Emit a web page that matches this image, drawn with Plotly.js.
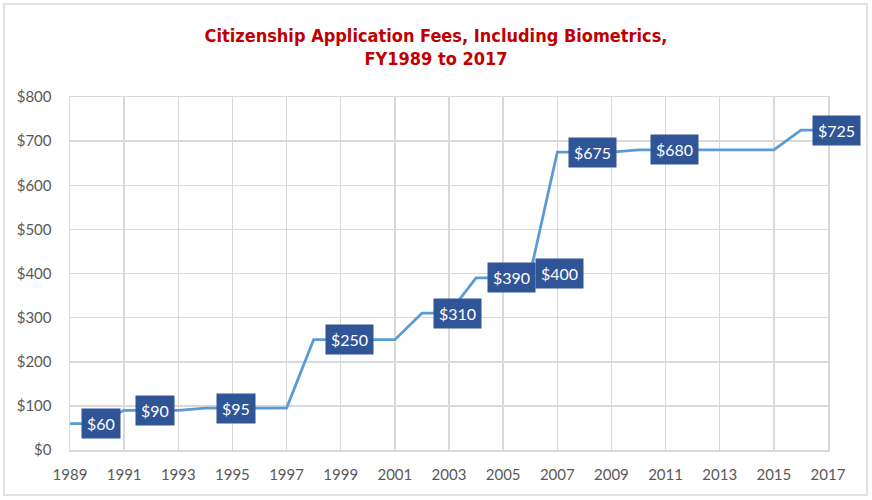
<!DOCTYPE html>
<html>
<head>
<meta charset="utf-8">
<script src="https://cdn.plot.ly/plotly-3.0.1.min.js"></script>
<style>
  html, body { margin: 0; padding: 0; background: #ffffff; }
  #chart { width: 872px; height: 500px; }
</style>
</head>
<body>
<div id="chart"></div>
<script>
// Fiscal years and the citizenship application fee (incl. biometrics) in each
const years = [1989, 1990, 1991, 1992, 1993, 1994, 1995, 1996, 1997, 1998,
               1999, 2000, 2001, 2002, 2003, 2004, 2005, 2006, 2007, 2008,
               2009, 2010, 2011, 2012, 2013, 2014, 2015, 2016, 2017];
const fees  = [60, 60, 90, 90, 90, 95, 95, 95, 95, 250,
               250, 250, 250, 310, 310, 390, 390, 400, 675, 675,
               675, 680, 680, 680, 680, 680, 680, 725, 725];

// Years where the fee changed and is called out with a label
const labelYears = [1989, 1991, 1994, 1998, 2002, 2004, 2006, 2007, 2010, 2016];

// Y-axis ticks
const yTicks = [0, 100, 200, 300, 400, 500, 600, 700, 800];
const yTickText = ['$0', '$100', '$200', '$300', '$400', '$500', '$600', '$700', '$800'];

const gridColor = '#D9D9D9';
const tickFont = { family: 'Lato, "Open Sans", sans-serif', size: 15, color: '#595959' };

const trace = {
  x: years,
  y: fees,
  type: 'scatter',
  mode: 'lines',
  line: { color: '#5B9BD5', width: 2.75 },
  hoverinfo: 'x+y',
  showlegend: false
};

// Callout boxes sit just to the right of each change point
const annotations = labelYears.map(function (yr) {
  const v = fees[years.indexOf(yr)];
  return {
    x: yr, y: v, xref: 'x', yref: 'y',
    text: '$' + v,
    showarrow: false,
    xanchor: 'left', yanchor: 'middle',
    xshift: yr === 2006 ? 5 : 11,
    bgcolor: '#2F5597',
    borderpad: 5,
    font: { family: 'Lato, "Open Sans", sans-serif', size: 16, color: '#ffffff' }
  };
});

// Light outer frame around the whole chart
const L = 70, R = 44, T = 97, B = 50, W = 872, H = 500;
const pw = W - L - R, ph = H - T - B;
const frame = {
  type: 'rect', xref: 'paper', yref: 'paper',
  x0: (4 - L) / pw, x1: (867 - L) / pw,
  y0: (H - B - 495) / ph, y1: (H - B - 4) / ph,
  line: { color: gridColor, width: 1.5 },
  fillcolor: 'rgba(0,0,0,0)',
  layer: 'below'
};

const layout = {
  width: W, height: H,
  margin: { l: L, r: R, t: T, b: B },
  paper_bgcolor: '#ffffff',
  plot_bgcolor: '#ffffff',
  title: {
    text: 'Citizenship Application Fees, Including Biometrics,<br>FY1989 to 2017',
    font: { family: '"Liberation Sans Narrow", "DejaVu Sans Condensed", "DejaVu Sans", sans-serif', size: 18, color: '#C00000', weight: 'bold', stretch: 'condensed' },
    x: 0.5, xanchor: 'center',
    y: 0.917, yanchor: 'middle', yref: 'container'
  },
  xaxis: {
    range: [1989, 2017],
    tickmode: 'linear', tick0: 1989, dtick: 2,
    showgrid: true, gridcolor: gridColor, gridwidth: 1.5,
    showline: true, linecolor: gridColor, linewidth: 1.5, mirror: true,
    zeroline: false, ticks: '',
    ticklabelstandoff: 10,
    tickfont: tickFont,
    fixedrange: true
  },
  yaxis: {
    range: [0, 800],
    tickmode: 'array', tickvals: yTicks, ticktext: yTickText,
    showgrid: true, gridcolor: gridColor, gridwidth: 1.5,
    showline: true, linecolor: gridColor, linewidth: 1.5, mirror: true,
    zeroline: false, ticks: '',
    ticklabelstandoff: 14,
    tickfont: tickFont,
    fixedrange: true
  },
  annotations: annotations,
  shapes: [frame]
};

Plotly.newPlot('chart', [trace], layout, { displayModeBar: false, staticPlot: true });
</script>
</body>
</html>
